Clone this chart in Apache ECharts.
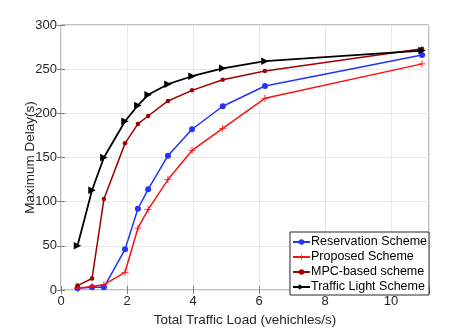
<!DOCTYPE html>
<html><head><meta charset="utf-8">
<script src="https://cdn.jsdelivr.net/npm/echarts@6/dist/echarts.min.js"></script>
<style>html,body{margin:0;padding:0;background:#fff}#c{width:474px;height:332px}</style>
</head><body><div id="c"></div>
<script>
const xLoad = [0.5, 0.94, 1.3, 1.94, 2.33, 2.64, 3.24, 3.97, 4.9, 6.18, 10.94];
const reservation = [2, 3, 3, 46, 92, 114, 152, 182, 208, 231, 266];
const proposed = [2, 4, 6, 20, 70, 91, 125, 158, 183, 217, 256];
const mpc = [5, 13, 103, 166, 188, 197, 214, 226, 238, 248, 273];
const trafficLight = [50, 113, 150, 191, 209, 221, 233, 242, 251, 259, 271];
const seriesNames = ['Reservation Scheme', 'Proposed Scheme', 'MPC-based scheme', 'Traffic Light Scheme'];
const xTitle = 'Total Traffic Load (vehichles/s)';
const yTitle = 'Maximum Delay(s)';

const pair = ys => xLoad.map((x, i) => [x, ys[i]]);
const font = 'Liberation Sans, Arial, sans-serif';
const gridCol = '#e8e8e8';
const axCol = '#808080';
const chart = echarts.init(document.getElementById('c'));
const plusPath = 'path://M-0.5,-4h1v3.5h3.5v1h-3.5v3.5h-1v-3.5h-3.5v-1h3.5z';
chart.setOption({
  animation: false,
  grid: {left: 61, right: 45, top: 25, bottom: 37, show: true, borderColor: axCol, borderWidth: 1},
  xAxis: [{
    type: 'value', min: 0, max: 11.15, interval: 2,
    name: xTitle, nameLocation: 'middle', nameGap: 23, nameMoveOverlap: false,
    nameTextStyle: {fontFamily: font, fontSize: 13.5, color: '#262626'},
    axisLine: {show: false}, axisTick: {show: true, inside: true, length: 4, lineStyle: {color: axCol}},
    axisLabel: {fontFamily: font, fontSize: 13, color: '#262626', margin: 5,
      formatter: v => (Math.abs(v % 2) < 1e-9 ? String(v) : '')},
    splitLine: {show: true, lineStyle: {color: gridCol, width: 1}}
  }, {
    type: 'value', position: 'top', min: 0, max: 11.15, interval: 2,
    axisLine: {show: false}, axisTick: {show: true, inside: true, length: 4, lineStyle: {color: axCol}},
    axisLabel: {show: false}, splitLine: {show: false}
  }],
  yAxis: [{
    type: 'value', min: 0, max: 300, interval: 50,
    name: yTitle, nameLocation: 'middle', nameGap: 24, nameMoveOverlap: false,
    nameTextStyle: {fontFamily: font, fontSize: 13.5, color: '#262626'},
    axisLine: {show: false}, axisTick: {show: true, inside: true, length: 4, lineStyle: {color: axCol}},
    axisLabel: {fontFamily: font, fontSize: 13, color: '#262626', margin: 4},
    splitLine: {show: true, lineStyle: {color: gridCol, width: 1}}
  }, {
    type: 'value', position: 'right', min: 0, max: 300, interval: 50,
    axisLine: {show: false}, axisTick: {show: true, inside: true, length: 4, lineStyle: {color: axCol}},
    axisLabel: {show: false}, splitLine: {show: false}
  }],
  legend: {
    orient: 'vertical', right: 45, bottom: 37, itemGap: 1, padding: [3, 2, 1, 2],
    backgroundColor: '#fff', borderColor: '#262626', borderWidth: 1, borderRadius: 0,
    itemWidth: 17, itemHeight: 7,
    textStyle: {fontFamily: font, fontSize: 12.5, lineHeight: 14, color: '#000', padding: [0, 0, 0, -4]},
    data: seriesNames
  },
  series: [
    {name: seriesNames[0], type: 'line', data: pair(reservation), color: '#2233ff',
     symbol: 'circle', symbolSize: 6, lineStyle: {width: 1.5}},
    {name: seriesNames[1], type: 'line', data: pair(proposed), color: '#ff1010',
     symbol: plusPath, symbolSize: 7, lineStyle: {width: 1.5}},
    {name: seriesNames[2], type: 'line', data: pair(mpc), color: '#a00000',
     symbol: 'circle', symbolSize: 4.5, lineStyle: {width: 1.5}},
    {name: seriesNames[3], type: 'line', data: pair(trafficLight), color: '#000000',
     symbol: 'triangle', symbolRotate: -90, symbolSize: 7.5, lineStyle: {width: 1.8}}
  ]
});
</script></body></html>
